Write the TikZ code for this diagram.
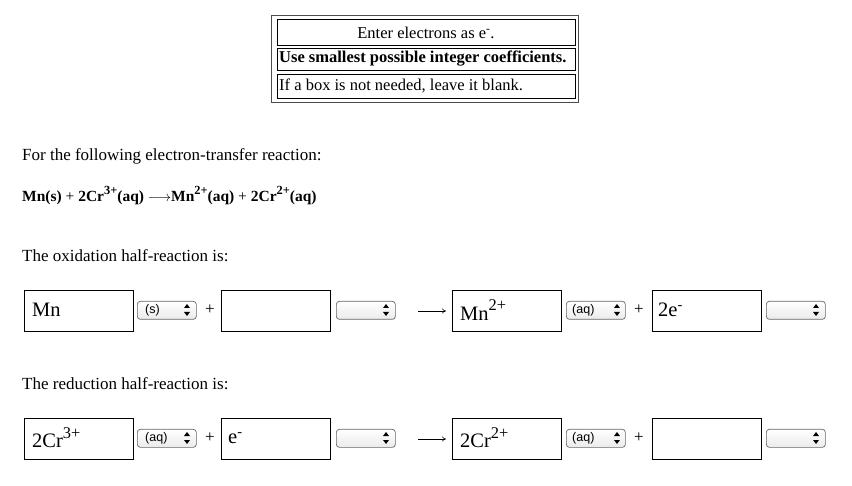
\documentclass[tikz,border=0pt]{standalone}
\usetikzlibrary{arrows.meta}
\usepackage{fontspec}
\setmainfont{Liberation Serif}
\setsansfont{Liberation Sans}
\newcommand{\sps}[1]{\raisebox{0.45em}{\scalebox{0.8}{#1}}}
\begin{document}
\begin{tikzpicture}[x=1pt,y=-1pt,
  inbox/.style={draw=black,line width=0.8pt,minimum width=109pt,minimum height=41pt,anchor=north west,inner sep=0pt},
  sel/.style={draw=black!60,rounded corners=3pt,line width=0.7pt,top color=white,bottom color=black!8,minimum width=59pt,minimum height=18pt,anchor=north west,inner sep=0pt},
  txt/.style={anchor=west,inner sep=0pt,font=\fontsize{17}{19}\selectfont},
  boxtxt/.style={anchor=west,inner sep=0pt,font=\fontsize{20.5}{22}\selectfont},
  seltxt/.style={anchor=west,inner sep=0pt,font=\sffamily\fontsize{12.5}{13}\selectfont},
  rowcell/.style={draw=black,line width=0.6pt,minimum width=298pt,anchor=north west,inner sep=0pt}]
\useasboundingbox (0,0) rectangle (852,486);
% top table
\node[draw=black!70,line width=0.8pt,minimum width=307pt,minimum height=87pt,anchor=north west] (tbl) at (271,15) {};
\node[rowcell,minimum height=26pt] (r1) at (277,19) {};
\node[rowcell,minimum height=22pt] (r2) at (277,48) {};
\node[rowcell,minimum height=24pt] (r3) at (277,74) {};
\node[font=\fontsize{16.5}{18}\selectfont,inner sep=0pt] (t1) at (426,33) {Enter electrons as e\textsuperscript{-}.};
\node[txt,font=\bfseries\fontsize{16.5}{18}\selectfont] (t2) at (279,59) {Use smallest possible integer coefficients.};
\node[txt,font=\fontsize{16.5}{18}\selectfont] (t3) at (279,86) {If a box is not needed, leave it blank.};
% texts
\node[txt] (p1) at (22,156) {For the following electron-transfer reaction:};
\node[anchor=west,inner sep=0pt,font=\fontsize{15.5}{17}\selectfont] (eq) at (22,196) {\textbf{Mn(s)} + \textbf{2Cr\sps{3+}(aq)} $\longrightarrow$\textbf{Mn\sps{2+}(aq)} + \textbf{2Cr\sps{2+}(aq)}};
\node[txt] (p2) at (22,256) {The oxidation half-reaction is:};
\node[txt] (p3) at (22,384) {The reduction half-reaction is:};
% rows
\foreach \r/\y/\a/\sa/\b/\c/\sc/\d in {o/290/Mn/(s)/{}/{Mn\sps{2+}}/(aq)/{2e\textsuperscript{-}},
                                    d/418/{2Cr\sps{3+}}/(aq)/{e\textsuperscript{-}}/{2Cr\sps{2+}}/(aq)/{}}{
  \node[inbox] (\r b1) at (24,\y) {};
  \node[boxtxt] at (32,\y+20) {\a};
  \node[sel] (\r s1) at (137,\y+11) {};
  \node[seltxt] at (145,\y+20) {\sa};
  \node[font=\fontsize{17}{18}\selectfont] at (210,\y+20) {+};
  \node[inbox] (\r b2) at (221,\y) {};
  \node[boxtxt] at (228,\y+20) {\b};
  \node[sel] (\r s2) at (336,\y+11) {};
  \coordinate (\r a1) at (418,\y+21);
  \coordinate (\r a2) at (446,\y+21);
  \draw[line width=0.6pt,-{To[length=4pt,width=5pt]}] (\r a1) -- (\r a2);
  \node[inbox] (\r b3) at (452,\y) {};
  \node[boxtxt] at (460,\y+20) {\c};
  \node[sel] (\r s3) at (566,\y+11) {};
  \node[seltxt] at (572,\y+20) {\sc};
  \node[font=\fontsize{17}{18}\selectfont] at (639,\y+20) {+};
  \node[inbox] (\r b4) at (652,\y) {};
  \node[boxtxt] at (658,\y+20) {\d};
  \node[sel] (\r s4) at (766,\y+11) {};
  \foreach \xx in {187,386,617,816}{
    \fill (\xx-3,\y+18) -- (\xx+3,\y+18) -- (\xx,\y+14) -- cycle;
    \fill (\xx-3,\y+22) -- (\xx+3,\y+22) -- (\xx,\y+26) -- cycle;
  }
}
\end{tikzpicture}
\end{document}
